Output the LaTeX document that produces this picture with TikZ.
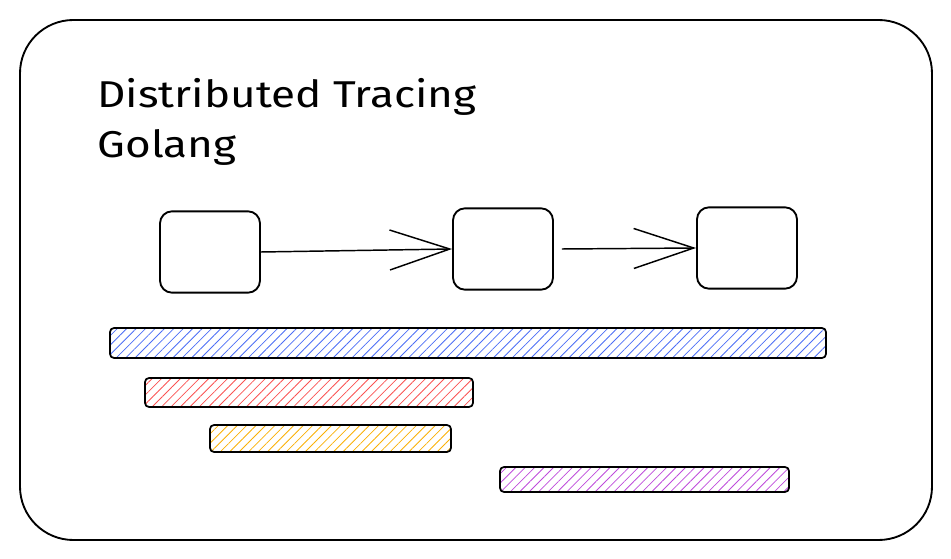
\documentclass[tikz,border=0pt]{standalone}
\usepackage{fontspec}
\setmainfont{Fira Sans}
\usetikzlibrary{patterns.meta,arrows.meta}
\definecolor{cblue}{HTML}{4C6EF5}
\definecolor{cred}{HTML}{FA5252}
\definecolor{corange}{HTML}{FAB005}
\definecolor{cpurple}{HTML}{BE4BDB}
\tikzset{
 frame/.style={draw=black,line width=1.4pt},
 stepbox/.style={draw=black,line width=1.4pt,rounded corners=9pt},
 bar/.style={draw=black,line width=1.3pt,rounded corners=3pt,pattern={Lines[angle=45,distance=5pt,line width=0.6pt]},pattern color=#1},
 conn/.style={line width=1.1pt,-{Straight Barb[length=45pt,width=30pt,line width=1.1pt]}},
 title/.style={anchor=base west,font=\fontsize{28}{30}\selectfont}
}
\begin{document}
\begin{tikzpicture}[x=0.75pt,y=-0.75pt]
\useasboundingbox (0,0) rectangle (951,559);
\draw[frame,rounded corners=40pt] (20,20) rectangle (932,540);
\node[title,xscale=1.18] (t1) at (92,108) {Distributed Tracing};
\node[title,xscale=1.18] (t2) at (92,158) {Golang};
\node[stepbox,minimum width=75pt,minimum height=61pt] (a) at (210,252) {};
\node[stepbox,minimum width=75pt,minimum height=61pt] (b) at (503,249) {};
\node[stepbox,minimum width=75pt,minimum height=61pt] (c) at (747,248) {};
\draw[conn] (a.east) -- (b.west);
\draw[conn] (b.east) ++(8,0) coordinate (bs) (bs) -- (c.west);
\path[bar=cblue] (110,328) rectangle (826,358);
\path[bar=cred] (145,378) rectangle (473,407);
\path[bar=corange] (210,425) rectangle (451,452);
\path[bar=cpurple] (500,467) rectangle (789,492);
\end{tikzpicture}
\end{document}
